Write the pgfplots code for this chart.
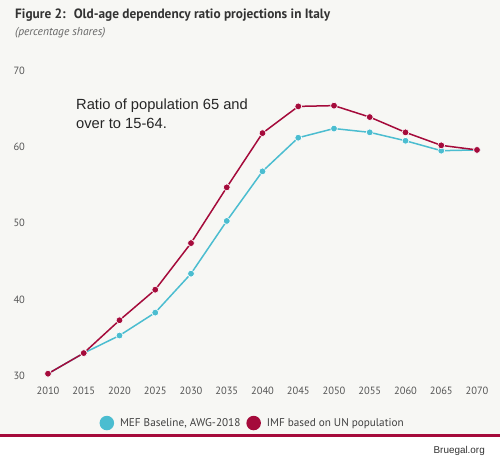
\documentclass[border=0pt]{standalone}
\usepackage{fontspec}
\setmainfont{PT Sans}
\newfontfamily\arial{Liberation Sans}
\usepackage{pgfplots}
\pgfplotsset{compat=1.18}

\definecolor{bgc}{HTML}{F7F7F4}
\definecolor{redc}{HTML}{A50B3B}
\definecolor{tealc}{HTML}{4BBDD0}
\definecolor{tickgrey}{HTML}{555555}

\begin{document}
\begin{tikzpicture}
    % page frame: 500 x 460 px, 1px = 1pt, origin bottom left
    \useasboundingbox (0pt,0pt) rectangle (500pt,460pt);
    \fill[white] (0pt,0pt) rectangle (500pt,25pt);
    \fill[bgc] (0pt,25pt) rectangle (500pt,460pt);
    \draw[redc, line width=2pt] (0pt,24.5pt) -- (500pt,24.5pt);

    % title and subtitle
    \node[anchor=base west, inner sep=0pt, text=black!80] at (15pt,441pt)
        {\resizebox{315pt}{\height}{\fontsize{13.5}{15}\selectfont\bfseries Figure 2:\hspace{0.6em}Old-age dependency ratio projections in Italy}};
    \node[anchor=base west, inner sep=0pt, text=black!60] at (15pt,424.5pt)
        {\fontsize{11.5}{13}\selectfont\itshape (percentage shares)};

    \begin{axis}[
            at={(48pt,84pt)}, anchor=south west,
            scale only axis,
            width=429pt, height=305.5pt,
            xmin=2010, xmax=2070,
            ymin=30, ymax=70,
            clip=false,
            axis line style={draw=none},
            major tick length=0pt,
            xtick={2010,2015,...,2070},
            ytick={30,40,...,70},
            /pgf/number format/assume math mode=true,
            /pgf/number format/1000 sep={},
            tick label style={font=\fontsize{10.5}{12}\selectfont, text=tickgrey},
            yticklabel style={xshift=-19.5pt},
            xticklabel style={yshift=-7.5pt},
            legend columns=2,
            legend style={
                at={(axis description cs:0.477,-0.154)}, anchor=center,
                draw=none, fill=none,
                font=\fontsize{11.2}{13}\selectfont, text=black!75,
                /tikz/every even column/.append style={column sep=4pt},
            },
        ]
        % MEF Baseline, AWG-2018
        \addplot[tealc, line width=1.5pt, mark=*, mark size=3.4pt,
            mark options={fill=tealc, draw=white, line width=0.6pt},
            legend image code/.code={\fill[tealc] (0pt,0pt) circle (6.5pt);}]
        coordinates {
            (2010,30.3) (2015,33.0) (2020,35.3) (2025,38.3) (2030,43.4)
            (2035,50.3) (2040,56.8) (2045,61.2) (2050,62.4) (2055,61.9)
            (2060,60.8) (2065,59.5) (2070,59.6)
        };
        \addlegendentry{\hspace{4pt}MEF Baseline, AWG-2018}

        % IMF based on UN population
        \addplot[redc, line width=1.5pt, mark=*, mark size=3.4pt,
            mark options={fill=redc, draw=white, line width=0.6pt},
            legend image code/.code={\fill[redc] (0pt,0pt) circle (6.5pt);}]
        coordinates {
            (2010,30.3) (2015,33.0) (2020,37.3) (2025,41.3) (2030,47.4)
            (2035,54.7) (2040,61.8) (2045,65.3) (2050,65.4) (2055,63.9)
            (2060,61.9) (2065,60.2) (2070,59.6)
        };
        \addlegendentry{\hspace{4pt}IMF based on UN population}
    \end{axis}

    % annotation
    \node[anchor=base west, inner sep=0pt, text=black!85] at (76pt,350.7pt)
        {\arial\fontsize{14.7}{19}\selectfont Ratio of population 65 and};
    \node[anchor=base west, inner sep=0pt, text=black!85] at (76pt,331.7pt)
        {\arial\fontsize{14.7}{19}\selectfont over to 15-64.};

    % source
    \node[anchor=base east, inner sep=0pt, text=black!80] at (485pt,7pt)
        {\arial\fontsize{9.9}{12}\selectfont Bruegal.org};
\end{tikzpicture}
\end{document}
